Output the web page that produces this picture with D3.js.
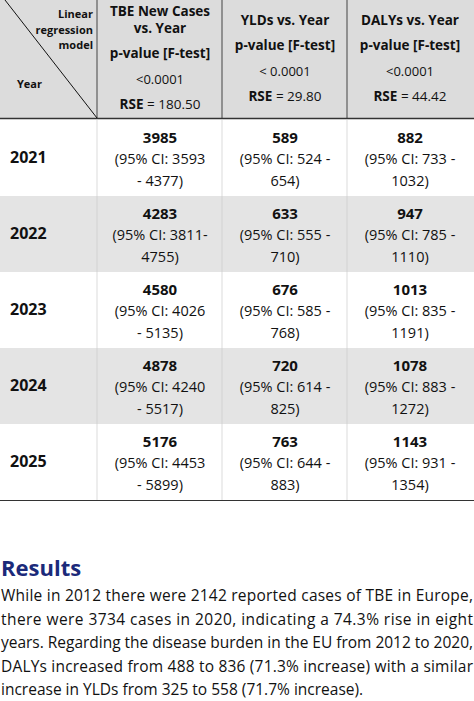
<!DOCTYPE html><html><head><meta charset="utf-8"><script src="https://cdn.jsdelivr.net/npm/d3@7"></script>
<style>body{margin:0;background:#fff}text{font-family:"Open Sans",sans-serif;fill:#111}</style></head><body><svg id="c" width="474" height="701"></svg>
<script>
const years=["2021","2022","2023","2024","2025"];
const cases=["3985","4283","4580","4878","5176"];
const casesCI=[["(95% CI: 3593","- 4377)"],["(95% CI: 3811-","4755)"],["(95% CI: 4026","- 5135)"],["(95% CI: 4240","- 5517)"],["(95% CI: 4453","- 5899)"]];
const ylds=["589","633","676","720","763"];
const yldsCI=[["(95% CI: 524 -","654)"],["(95% CI: 555 -","710)"],["(95% CI: 585 -","768)"],["(95% CI: 614 -","825)"],["(95% CI: 644 -","883)"]];
const dalys=["882","947","1013","1078","1143"];
const dalysCI=[["(95% CI: 733 -","1032)"],["(95% CI: 785 -","1110)"],["(95% CI: 835 -","1191)"],["(95% CI: 883 -","1272)"],["(95% CI: 931 -","1354)"]];
const headers=[{t:["TBE New Cases","vs. Year"],p:"<0.0001",r:"180.50"},{t:["YLDs vs. Year"],p:"< 0.0001",r:"29.80"},{t:["DALYs vs. Year"],p:"<0.0001",r:"44.42"}];
const para=["While in 2012 there were 2142 reported cases of TBE in Europe,","there were 3734 cases in 2020, indicating a 74.3% rise in eight","years. Regarding the disease burden in the EU from 2012 to 2020,","DALYs increased from 488 to 836 (71.3% increase) with a similar","increase in YLDs from 325 to 558 (71.7% increase)."];
const svg=d3.select("#c");
const cx=i=>[48,160,285,410][i];
const y=d3.scaleBand().domain(years).range([120,500]);
svg.append("rect").attr("x",0).attr("y",0).attr("width",474).attr("height",118).attr("fill","#dcdcdc");
svg.selectAll("rect.row").data(years).join("rect").attr("x",0).attr("y",d=>y(d)).attr("width",474).attr("height",y.bandwidth()).attr("fill",(d,i)=>i%2?"#e4e4e4":"#fff");
[97,222,347].forEach(v=>{svg.append("line").attr("x1",v).attr("x2",v).attr("y1",0).attr("y2",118).attr("stroke","#444").attr("stroke-width",1);
 svg.append("line").attr("x1",v).attr("x2",v).attr("y1",120).attr("y2",500).attr("stroke","#ccc").attr("stroke-width",0.7);});
svg.append("line").attr("x1",0).attr("x2",474).attr("y1",118.5).attr("y2",118.5).attr("stroke","#333").attr("stroke-width",1.5);
svg.append("line").attr("x1",0).attr("x2",474).attr("y1",500.5).attr("y2",500.5).attr("stroke","#333").attr("stroke-width",1);
svg.append("line").attr("x1",5).attr("y1",0).attr("x2",97).attr("y2",118).attr("stroke","#111").attr("stroke-width",1);
["Linear","regression","model"].forEach((t,i)=>svg.append("text").attr("x",93).attr("y",18+i*15.5).attr("text-anchor","end").attr("font-size",11).attr("font-weight","bold").text(t));
svg.append("text").attr("x",17).attr("y",88).attr("font-size",11).attr("font-weight","bold").text("Year");
headers.forEach((h,i)=>{const X=cx(i+1);let yy=h.t.length==2?16:25;
 h.t.forEach((t,j)=>svg.append("text").attr("x",X).attr("y",yy+j*17).attr("text-anchor","middle").attr("font-size",13.5).attr("font-weight","bold").text(t));
 let b=yy+(h.t.length-1)*17;
 svg.append("text").attr("x",X).attr("y",b+25).attr("text-anchor","middle").attr("font-size",13.5).attr("font-weight","bold").text("p-value [F-test]");
 svg.append("text").attr("x",X).attr("y",b+51).attr("text-anchor","middle").attr("font-size",13).text(h.p);
 const r=svg.append("text").attr("x",X).attr("y",b+76).attr("text-anchor","middle").attr("font-size",13.5);
 r.append("tspan").attr("font-weight","bold").text("RSE");r.append("tspan").text(" = "+h.r);});
svg.selectAll("text.yr").data(years).join("text").attr("x",10).attr("y",d=>y(d)+y.bandwidth()/2+5).attr("font-size",16).attr("font-weight","bold").text(d=>d);
[[cases,casesCI],[ylds,yldsCI],[dalys,dalysCI]].forEach(([v,ci],k)=>{const X=cx(k+1);
 years.forEach((yr,i)=>{const t=y(yr);
  svg.append("text").attr("x",X).attr("y",t+23).attr("text-anchor","middle").attr("font-size",15).attr("font-weight","bold").text(v[i]);
  ci[i].forEach((l,j)=>svg.append("text").attr("x",X).attr("y",t+44+j*22).attr("text-anchor","middle").attr("font-size",14.5).attr("fill","#222").text(l));});});
svg.append("text").attr("x",1).attr("y",576).attr("font-size",22).attr("font-weight","bold").style("fill","#1b2a7a").text("Results");
para.forEach((l,i)=>{const t=svg.append("text").attr("x",1).attr("y",601+i*23.6).attr("font-size",15.5).attr("fill","#222").text(l);
 if(i<para.length-1)t.attr("textLength",472).attr("lengthAdjust","spacing");});
</script></body></html>
